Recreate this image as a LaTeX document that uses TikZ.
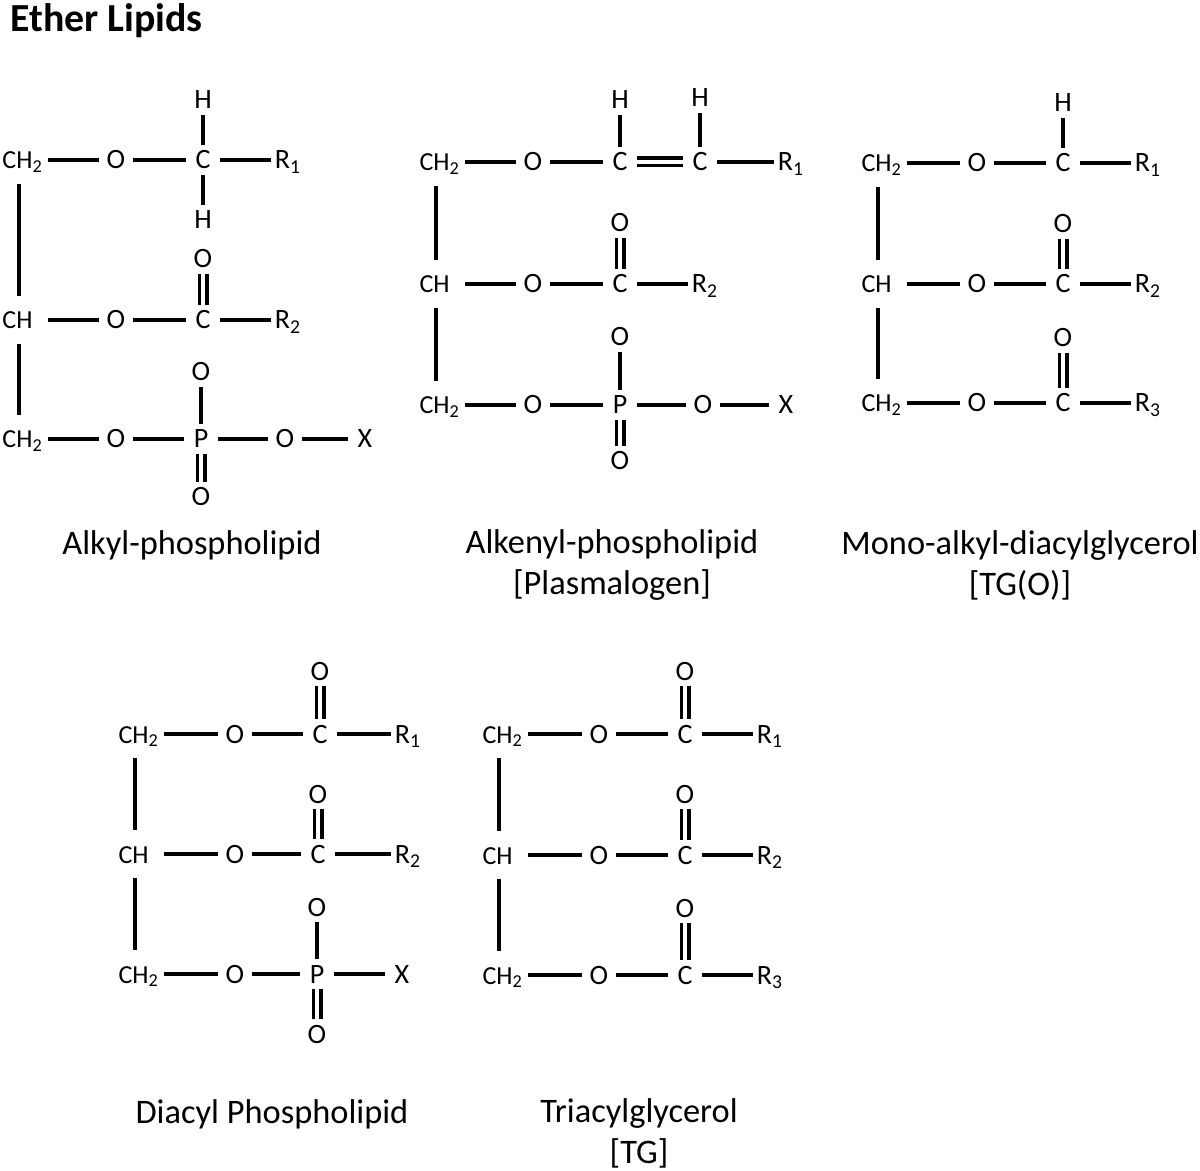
\documentclass[tikz,border=0pt]{standalone}
\usepackage{fontspec}
\setmainfont{Carlito}
\usetikzlibrary{positioning}
\newcommand{\chtwo}{\rlap{CH\textsubscript{2}}}
\newcommand{\chone}{\rlap{CH}}
\tikzset{
  atom/.style={inner sep=0pt, minimum width=17pt, minimum height=15pt, text height=9pt, text depth=0pt, font=\fontsize{14}{15}\selectfont},
  chain/.style={atom, text width=16.5pt, align=left, inner xsep=6pt, minimum width=0pt, minimum height=24pt, font=\fontsize{13}{14}\selectfont},
  bond/.style={line width=1.6pt},
  dbond/.style={bond, double, double distance=2.3pt},
  caption/.style={font=\fontsize{17.2}{18}\selectfont}
}
\begin{document}
\begin{tikzpicture}[x=0.5pt,y=-0.5pt]
  \useasboundingbox[fill=white] (0,0) rectangle (1200,1171);
  \node[anchor=west, inner sep=0pt, font=\fontsize{19.9}{22}\bfseries\selectfont] (title) at (10,21) {Ether Lipids};

  % Alkyl-phospholipid
  \foreach \n/\x/\y/\t in {aa/19/160/\chtwo, ab/19/320/\chone, ac/19/439/\chtwo}
    \node[chain] (\n) at (\x,\y) {\t};
  \foreach \n/\x/\y/\t in {ao1/116/160/O, ac1/203/160/C, ahu/203/100/H, ahd/203/220/H, ar1/288/160/R\textsubscript{1},
      ao2/116/320/O, ac2/203/320/C, aou/203/259/O, ar2/288/320/R\textsubscript{2},
      ao3/116/439/O, ap/201/439/P, apu/201/372/O, apd/201/497/O, ao4/285/439/O, ax/365/439/X}
    \node[atom] (\n) at (\x,\y) {\t};
  \foreach \u/\v in {aa/ao1, ao1/ac1, ac1/ar1, ac1/ahu, ac1/ahd, aa/ab, ab/ac, ab/ao2, ao2/ac2, ac2/ar2, ac/ao3, ao3/ap, ap/ao4, ao4/ax, ap/apu}
    \draw[bond] (\u) -- (\v);
  \draw[dbond] (ac2) -- (aou);
  \draw[dbond] (ap) -- (apd);
  \node[caption] (alabel) at (192,545) {Alkyl-phospholipid};

  % Alkenyl-phospholipid
  \foreach \n/\x/\y/\t in {ba/436/162/\chtwo, bb/436/284/\chone, bc/436/405/\chtwo}
    \node[chain] (\n) at (\x,\y) {\t};
  \foreach \n/\x/\y/\t in {bo1/533/162/O, bc1/620/162/C, bc2/700/162/C, bhu/620/100/H, bhv/700/98/H, br1/791/162/R\textsubscript{1},
      bo2/533/284/O, bc3/620/284/C, bou/620/223/O, br2/705/284/R\textsubscript{2},
      bo3/533/405/O, bp/620/405/P, bpu/620/337/O, bpd/620/461/O, bo4/703/405/O, bx/786/405/X}
    \node[atom] (\n) at (\x,\y) {\t};
  \foreach \u/\v in {ba/bo1, bo1/bc1, bc2/br1, bc1/bhu, bc2/bhv, ba/bb, bb/bc, bb/bo2, bo2/bc3, bc3/br2, bc/bo3, bo3/bp, bp/bo4, bo4/bx, bp/bpu}
    \draw[bond] (\u) -- (\v);
  \draw[dbond] (bc1) -- (bc2);
  \draw[dbond] (bc3) -- (bou);
  \draw[dbond] (bp) -- (bpd);
  \node[caption, align=center] (blabel) at (612,565) {Alkenyl-phospholipid\\[2.5pt] [Plasmalogen]};

  % Mono-alkyl-diacylglycerol
  \foreach \n/\x/\y/\t in {ca/878/163/\chtwo, cb/878/284/\chone, cc/878/403/\chtwo}
    \node[chain] (\n) at (\x,\y) {\t};
  \foreach \n/\x/\y/\t in {co1/977/163/O, cc1/1063/163/C, chu/1063/103/H, cr1/1148/163/R\textsubscript{1},
      co2/977/284/O, cc2/1063/284/C, cou/1063/224/O, cr2/1148/284/R\textsubscript{2},
      co3/977/403/O, cc3/1063/403/C, cov/1063/338/O, cr3/1148/403/R\textsubscript{3}}
    \node[atom] (\n) at (\x,\y) {\t};
  \foreach \u/\v in {ca/co1, co1/cc1, cc1/cr1, cc1/chu, ca/cb, cb/cc, cb/co2, co2/cc2, cc2/cr2, cc/co3, co3/cc3, cc3/cr3}
    \draw[bond] (\u) -- (\v);
  \draw[dbond] (cc2) -- (cou);
  \draw[dbond] (cc3) -- (cov);
  \node[caption, align=center] (clabel) at (1020,565) {Mono-alkyl-diacylglycerol\\[2.5pt] [TG(O)]};

  % Diacyl Phospholipid
  \foreach \n/\x/\y/\t in {da/135/734/\chtwo, db/135/854/\chone, dc/135/974/\chtwo}
    \node[chain] (\n) at (\x,\y) {\t};
  \foreach \n/\x/\y/\t in {do1/235/734/O, dc1/320/734/C, dou/320/671/O, dr1/408/734/R\textsubscript{1},
      do2/235/854/O, dc2/318/854/C, dov/318/794/O, dr2/408/854/R\textsubscript{2},
      do3/235/974/O, dp/317/974/P, dpu/317/907/O, dpd/317/1034/O, dx/402/974/X}
    \node[atom] (\n) at (\x,\y) {\t};
  \foreach \u/\v in {da/do1, do1/dc1, dc1/dr1, da/db, db/dc, db/do2, do2/dc2, dc2/dr2, dc/do3, do3/dp, dp/dx, dp/dpu}
    \draw[bond] (\u) -- (\v);
  \draw[dbond] (dc1) -- (dou);
  \draw[dbond] (dc2) -- (dov);
  \draw[dbond] (dp) -- (dpd);
  \node[caption] (dlabel) at (272,1114) {Diacyl Phospholipid};

  % Triacylglycerol
  \foreach \n/\x/\y/\t in {ea/499/734/\chtwo, eb/499/855/\chone, ec/499/975/\chtwo}
    \node[chain] (\n) at (\x,\y) {\t};
  \foreach \n/\x/\y/\t in {eo1/599/734/O, ec1/685/734/C, eou/685/671/O, er1/770/734/R\textsubscript{1},
      eo2/599/855/O, ec2/685/855/C, eov/685/794/O, er2/770/855/R\textsubscript{2},
      eo3/599/975/O, ec3/685/975/C, eow/685/908/O, er3/770/975/R\textsubscript{3}}
    \node[atom] (\n) at (\x,\y) {\t};
  \foreach \u/\v in {ea/eo1, eo1/ec1, ec1/er1, ea/eb, eb/ec, eb/eo2, eo2/ec2, ec2/er2, ec/eo3, eo3/ec3, ec3/er3}
    \draw[bond] (\u) -- (\v);
  \draw[dbond] (ec1) -- (eou);
  \draw[dbond] (ec2) -- (eov);
  \draw[dbond] (ec3) -- (eow);
  \node[caption, align=center] (elabel) at (639,1133) {Triacylglycerol\\[2.5pt] [TG]};
\end{tikzpicture}
\end{document}
